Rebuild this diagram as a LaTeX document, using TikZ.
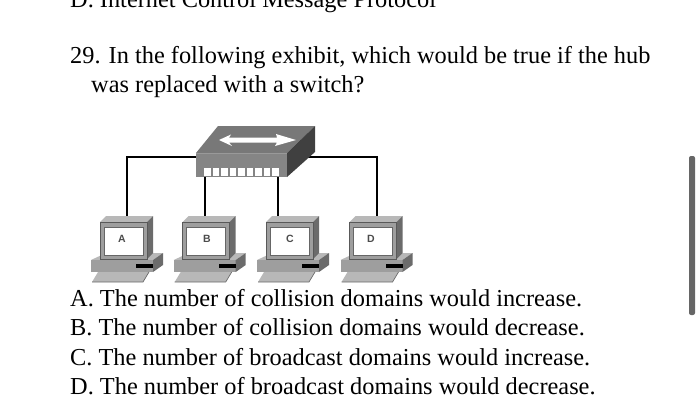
\documentclass[tikz,border=0pt]{standalone}
\usepackage{fontspec}
\setmainfont{Liberation Serif}
\setsansfont{Liberation Sans}
\definecolor{hubtop}{gray}{0.47}
\definecolor{hubfront}{gray}{0.52}
\definecolor{hubside}{gray}{0.25}
\definecolor{pclight}{gray}{0.72}
\definecolor{pcfront}{gray}{0.62}
\definecolor{pcside}{gray}{0.42}
\tikzset{
  question/.style={anchor=base west,inner sep=0pt,font=\fontsize{24.35}{24.35}\selectfont},
  cable/.style={line width=2pt,black},
  port/.style={fill=white,draw=none},
  pclabel/.style={inner sep=0pt,font=\sffamily\fontsize{10.5}{10.5}\selectfont\bfseries,text=black!70}
}
\begin{document}
\begin{tikzpicture}[x=1pt,y=-1pt]
  \useasboundingbox (0,0) rectangle (700,405);
  \clip (0,0) rectangle (700,405);

  % Define cable ends
  \coordinate (hubL) at (197,157); \coordinate (hubR) at (307,157);
  \coordinate (hubB) at (205,176); \coordinate (hubC) at (278,176);
  \coordinate (pcA) at (127,218); \coordinate (pcB) at (205,218);
  \coordinate (pcC) at (278,218); \coordinate (pcD) at (377,218);

  % Draw cables
  \draw[cable] (hubL) -| (pcA);
  \draw[cable] (hubR) -| (pcD);
  \draw[cable] (hubB) -- (pcB);
  \draw[cable] (hubC) -- (pcC);

  % Draw hub
  \fill[hubtop] (196,153)--(218,126)--(315,126)--(287,153)--cycle;
  \fill[hubfront] (196,153)--(287,153)--(287,177)--(196,177)--cycle;
  \fill[hubside] (287,153)--(315,126)--(315,152)--(287,177)--cycle;
  \draw[gray!80,line width=0.8pt] (196,153)--(287,153);
  \foreach \i in {0,...,8}
    \fill[port] (204+8.5*\i,168) rectangle ++(6.5,7.5);
  \fill[white] (219,140)--(231,134.5)--(229,137.5)--(277,137.5)--(276,134)--(296,140)--(275,146)--(277,142.5)--(229,142.5)--(232,146)--cycle;

  % Draw computers
  \foreach \name/\dx/\lx in {A/0/122,B/82.7/207,C/166/290,D/249.5/371}{
    \begin{scope}[xshift=\dx pt]
      % base
      \fill[pclight] (91,260)--(106,253)--(163,253)--(153,260)--cycle;
      \fill[pcfront] (91,260) rectangle (153,272);
      \fill[pcside] (153,260)--(163,253)--(163,265)--(153,272)--cycle;
      \fill[black] (136,263.5) rectangle (153,267.5);
      % keyboard
      \fill[pclight] (98,272)--(149,272)--(143,282)--(92,282)--cycle;
      \draw[pcside,line width=0.7pt] (92,282)--(143,282)--(149,272);
      % monitor
      \fill[pclight] (100,222)--(106,216)--(153,216)--(147,222)--cycle;
      \fill[pcside] (147,222)--(153,216)--(153,253)--(147,259)--cycle;
      \fill[pcfront] (100,222) rectangle (147,259);
      \draw[black!65,line width=0.6pt] (100,222) rectangle (147,259);
      \fill[white] (104,227) rectangle (143,255);
      \draw[black!60,line width=0.6pt] (104,227) rectangle (143,255);
    \end{scope}
    \node[pclabel] (label\name) at (\lx,239) {\name};
  }

  % Add text
  \node[question] (prev) at (70,7) {D. Internet Control Message Protocol};
  \node[question] (line1) at (70,63) {29. In the following exhibit, which would be true if the hub};
  \node[question] (line2) at (91,92) {was replaced with a switch?};
  \node[question] (optA) at (70,306) {A. The number of collision domains would increase.};
  \node[question] (optB) at (70,335) {B. The number of collision domains would decrease.};
  \node[question] (optC) at (70,365) {C. The number of broadcast domains would increase.};
  \node[question] (optD) at (70,394) {D. The number of broadcast domains would decrease.};

  % Scroll bar
  \fill[black!60,rounded corners=2pt] (689,156) rectangle (695,315);
\end{tikzpicture}
\end{document}
